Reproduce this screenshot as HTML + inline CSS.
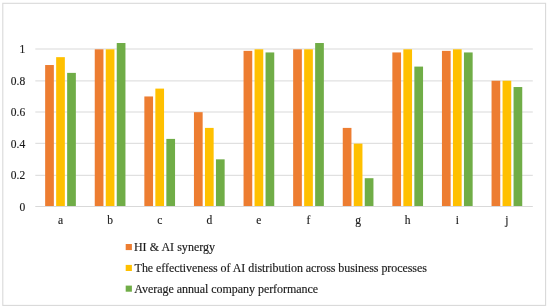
<!DOCTYPE html>
<html><head><meta charset="utf-8"><style>
html,body{margin:0;padding:0;background:#fff;width:550px;height:308px;overflow:hidden}
svg{display:block}
.ax{font-family:"Liberation Serif",serif;font-size:11.5px;fill:#1a1a1a;stroke:#1a1a1a;stroke-width:0.15px}
.lg{font-family:"Liberation Serif",serif;font-size:12px;fill:#1a1a1a;stroke:#1a1a1a;stroke-width:0.15px}
</style></head><body>
<svg width="550" height="308" viewBox="0 0 550 308">
<rect x="2.8" y="3.3" width="542.8" height="302.1" fill="#fff" stroke="#D9D9D9" stroke-width="1.1"/>
<line x1="35.3" x2="532.8" y1="175.30" y2="175.30" stroke="#D9D9D9" stroke-width="1"/>
<line x1="35.3" x2="532.8" y1="143.30" y2="143.30" stroke="#D9D9D9" stroke-width="1"/>
<line x1="35.3" x2="532.8" y1="112.00" y2="112.00" stroke="#D9D9D9" stroke-width="1"/>
<line x1="35.3" x2="532.8" y1="80.90" y2="80.90" stroke="#D9D9D9" stroke-width="1"/>
<line x1="35.3" x2="532.8" y1="49.00" y2="49.00" stroke="#D9D9D9" stroke-width="1"/>
<rect x="45.15" y="65.02" width="8.7" height="141.48" fill="#ED7D31"/>
<rect x="56.15" y="57.16" width="8.7" height="149.34" fill="#FFC000"/>
<rect x="67.15" y="72.88" width="8.7" height="133.62" fill="#70AD47"/>
<rect x="94.75" y="49.30" width="8.7" height="157.20" fill="#ED7D31"/>
<rect x="105.75" y="49.30" width="8.7" height="157.20" fill="#FFC000"/>
<rect x="116.75" y="43.01" width="8.7" height="163.49" fill="#70AD47"/>
<rect x="144.35" y="96.46" width="8.7" height="110.04" fill="#ED7D31"/>
<rect x="155.35" y="88.60" width="8.7" height="117.90" fill="#FFC000"/>
<rect x="166.35" y="138.90" width="8.7" height="67.60" fill="#70AD47"/>
<rect x="193.95" y="112.18" width="8.7" height="94.32" fill="#ED7D31"/>
<rect x="204.95" y="127.90" width="8.7" height="78.60" fill="#FFC000"/>
<rect x="215.95" y="159.34" width="8.7" height="47.16" fill="#70AD47"/>
<rect x="243.55" y="50.87" width="8.7" height="155.63" fill="#ED7D31"/>
<rect x="254.55" y="49.30" width="8.7" height="157.20" fill="#FFC000"/>
<rect x="265.55" y="52.44" width="8.7" height="154.06" fill="#70AD47"/>
<rect x="293.15" y="49.30" width="8.7" height="157.20" fill="#ED7D31"/>
<rect x="304.15" y="49.30" width="8.7" height="157.20" fill="#FFC000"/>
<rect x="315.15" y="43.01" width="8.7" height="163.49" fill="#70AD47"/>
<rect x="342.75" y="127.90" width="8.7" height="78.60" fill="#ED7D31"/>
<rect x="353.75" y="143.62" width="8.7" height="62.88" fill="#FFC000"/>
<rect x="364.75" y="178.20" width="8.7" height="28.30" fill="#70AD47"/>
<rect x="392.35" y="52.44" width="8.7" height="154.06" fill="#ED7D31"/>
<rect x="403.35" y="49.30" width="8.7" height="157.20" fill="#FFC000"/>
<rect x="414.35" y="66.59" width="8.7" height="139.91" fill="#70AD47"/>
<rect x="441.95" y="50.87" width="8.7" height="155.63" fill="#ED7D31"/>
<rect x="452.95" y="49.30" width="8.7" height="157.20" fill="#FFC000"/>
<rect x="463.95" y="52.44" width="8.7" height="154.06" fill="#70AD47"/>
<rect x="491.55" y="80.74" width="8.7" height="125.76" fill="#ED7D31"/>
<rect x="502.55" y="80.74" width="8.7" height="125.76" fill="#FFC000"/>
<rect x="513.55" y="87.03" width="8.7" height="119.47" fill="#70AD47"/>
<line x1="35.3" x2="532.8" y1="206.5" y2="206.5" stroke="#D9D9D9" stroke-width="1"/>
<text x="25.2" y="211" text-anchor="end" class="ax">0</text>
<text x="25.2" y="179" text-anchor="end" class="ax">0.2</text>
<text x="25.2" y="148" text-anchor="end" class="ax">0.4</text>
<text x="25.2" y="116" text-anchor="end" class="ax">0.6</text>
<text x="25.2" y="85" text-anchor="end" class="ax">0.8</text>
<text x="25.2" y="53" text-anchor="end" class="ax">1</text>
<text x="60.50" y="224" text-anchor="middle" class="ax">a</text>
<text x="110.10" y="224" text-anchor="middle" class="ax">b</text>
<text x="159.70" y="224" text-anchor="middle" class="ax">c</text>
<text x="209.30" y="224" text-anchor="middle" class="ax">d</text>
<text x="258.90" y="224" text-anchor="middle" class="ax">e</text>
<text x="308.50" y="224" text-anchor="middle" class="ax">f</text>
<text x="358.10" y="224" text-anchor="middle" class="ax">g</text>
<text x="407.70" y="224" text-anchor="middle" class="ax">h</text>
<text x="457.30" y="224" text-anchor="middle" class="ax">i</text>
<text x="506.90" y="224" text-anchor="middle" class="ax">j</text>
<rect x="125.7" y="244.0" width="6.2" height="6.1" fill="#ED7D31"/>
<text x="133.9" y="251" textLength="81.2" lengthAdjust="spacing" class="lg">HI &amp; AI synergy</text>
<rect x="125.7" y="264.9" width="6.2" height="6.1" fill="#FFC000"/>
<text x="134.6" y="272" textLength="292.3" lengthAdjust="spacing" class="lg">The effectiveness of AI distribution across business processes</text>
<rect x="125.7" y="285.6" width="6.2" height="6.1" fill="#70AD47"/>
<text x="134.3" y="293" textLength="183.8" lengthAdjust="spacing" class="lg">Average annual company performance</text>
</svg>
</body></html>
